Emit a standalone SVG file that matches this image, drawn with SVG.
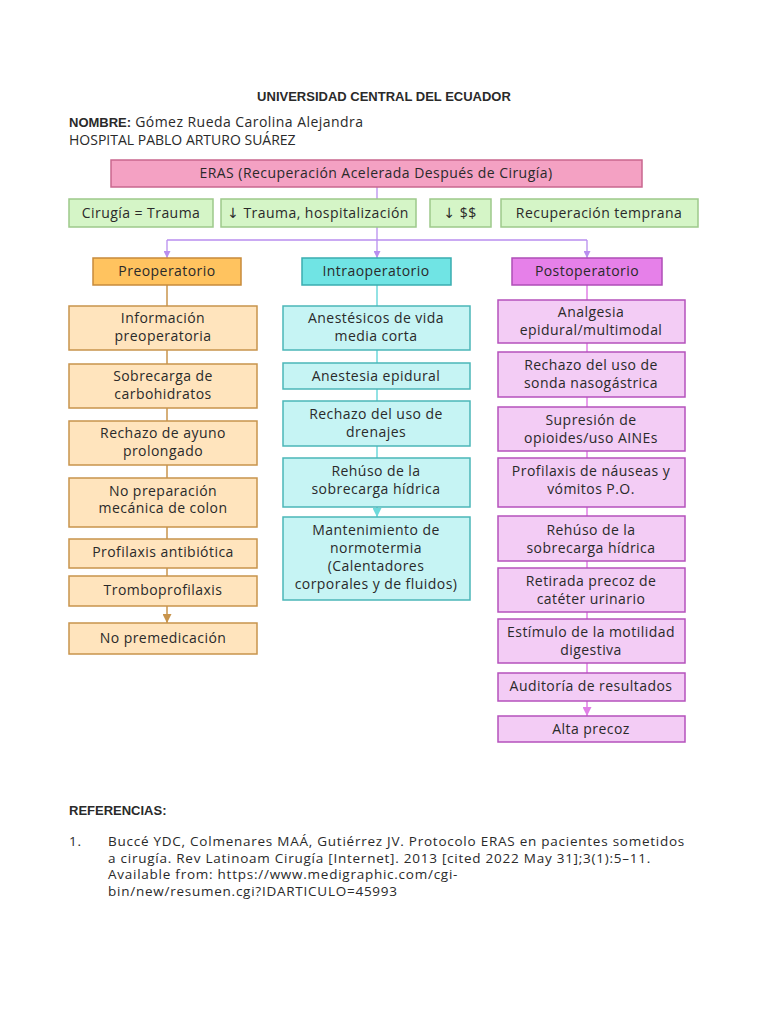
<svg xmlns="http://www.w3.org/2000/svg" width="768" height="1024" viewBox="0 0 768 1024">
<defs>
<style>
text{font-family:"Open Sans","DejaVu Sans",sans-serif;font-size:14px;letter-spacing:0.45px;fill:#2a2a2a}
.c{text-anchor:middle}
.b{font-family:"Liberation Sans",Arial,sans-serif;font-weight:bold;letter-spacing:0;font-size:13px}
.r{font-size:13.5px;letter-spacing:0.75px}
.eras{fill:#F4A1C3;stroke:#C9678F;stroke-width:1.5}
.grn{fill:#D5F5C7;stroke:#9DC98B;stroke-width:1.5}
.hpre{fill:#FFC35F;stroke:#C78B3B;stroke-width:1.5}
.hin{fill:#70E4E4;stroke:#3AADB0;stroke-width:1.5}
.hpo{fill:#E680E9;stroke:#AF4EB7;stroke-width:1.5}
.pre{fill:#FFE4BD;stroke:#C8944C;stroke-width:1.5}
.in{fill:#C6F4F4;stroke:#4BB6B8;stroke-width:1.5}
.po{fill:#F3CCF5;stroke:#B552BC;stroke-width:1.5}
.lv{stroke:#B98EEF;stroke-width:1.3;fill:none}
.lpre{stroke:#C8944C;stroke-width:1.5;fill:none}
.lin{stroke:#6ED9DB;stroke-width:1.5;fill:none}
.lpo{stroke:#E07FE6;stroke-width:1.5;fill:none}
</style>
<marker id="aLv" viewBox="0 0 10 10" refX="10" refY="5" markerWidth="7" markerHeight="7" orient="auto" markerUnits="userSpaceOnUse"><path d="M0,0 L10,5 L0,10 z" fill="#B98EEF"/></marker>
<marker id="aPre" viewBox="0 0 10 10" refX="10" refY="5" markerWidth="9" markerHeight="9" orient="auto" markerUnits="userSpaceOnUse"><path d="M0,0 L10,5 L0,10 z" fill="#C8944C"/></marker>
<marker id="aIn" viewBox="0 0 10 10" refX="10" refY="5" markerWidth="9" markerHeight="9" orient="auto" markerUnits="userSpaceOnUse"><path d="M0,0 L10,5 L0,10 z" fill="#6ED9DB"/></marker>
<marker id="aPo" viewBox="0 0 10 10" refX="10" refY="5" markerWidth="9" markerHeight="9" orient="auto" markerUnits="userSpaceOnUse"><path d="M0,0 L10,5 L0,10 z" fill="#E07FE6"/></marker>
</defs>
<rect width="768" height="1024" fill="#ffffff"/>

<g id="header">
<text class="c b" x="384" y="101">UNIVERSIDAD CENTRAL DEL ECUADOR</text>
<text x="69" y="127"><tspan class="b">NOMBRE:</tspan> Gómez Rueda Carolina Alejandra</text>
<text x="69" y="145" style="letter-spacing:0">HOSPITAL PABLO ARTURO SUÁREZ</text>
</g>

<g id="connectors">
<line class="lv" x1="377" y1="187" x2="377" y2="199"/>
<line class="lv" x1="377" y1="227" x2="377" y2="240"/>
<line class="lv" x1="167" y1="240" x2="587" y2="240"/>
<line class="lv" x1="167" y1="240" x2="167" y2="258" marker-end="url(#aLv)"/>
<line class="lv" x1="377" y1="240" x2="377" y2="258" marker-end="url(#aLv)"/>
<line class="lv" x1="587" y1="240" x2="587" y2="258" marker-end="url(#aLv)"/>
<line class="lpre" x1="167" y1="285" x2="167" y2="623" marker-end="url(#aPre)"/>
<line class="lin" x1="377" y1="285" x2="377" y2="517" marker-end="url(#aIn)"/>
<line class="lpo" x1="587" y1="285" x2="587" y2="716" marker-end="url(#aPo)"/>
</g>

<g id="eras"><rect class="eras" x="111" y="160" width="531" height="27"/><text class="c" x="376" y="178">ERAS (Recuperación Acelerada Después de Cirugía)</text></g>
<g id="g1"><rect class="grn" x="69" y="199" width="144" height="28"/><text class="c" x="141" y="218">Cirugía = Trauma</text></g>
<g id="g2"><rect class="grn" x="221" y="199" width="195" height="28"/><text class="c" x="318" y="218">↓ Trauma, hospitalización</text></g>
<g id="g3"><rect class="grn" x="430" y="199" width="61" height="28"/><text class="c" x="460" y="218">↓ $$</text></g>
<g id="g4"><rect class="grn" x="501" y="199" width="197" height="28"/><text class="c" x="599" y="218">Recuperación temprana</text></g>

<g id="preop"><rect class="hpre" x="93" y="258" width="148" height="27"/><text class="c" x="167" y="276">Preoperatorio</text></g>
<g id="intraop"><rect class="hin" x="302" y="258" width="149" height="27"/><text class="c" x="376" y="276">Intraoperatorio</text></g>
<g id="postop"><rect class="hpo" x="512" y="258" width="150" height="27"/><text class="c" x="587" y="276">Postoperatorio</text></g>

<g id="pre1"><rect class="pre" x="69" y="306" width="188" height="44"/><text class="c" x="163" y="323">Información</text><text class="c" x="163" y="341">preoperatoria</text></g>
<g id="pre2"><rect class="pre" x="69" y="364" width="188" height="44"/><text class="c" x="163" y="381">Sobrecarga de</text><text class="c" x="163" y="399">carbohidratos</text></g>
<g id="pre3"><rect class="pre" x="69" y="421" width="188" height="44"/><text class="c" x="163" y="438">Rechazo de ayuno</text><text class="c" x="163" y="456">prolongado</text></g>
<g id="pre4"><rect class="pre" x="69" y="478" width="188" height="49"/><text class="c" x="163" y="496">No preparación</text><text class="c" x="163" y="513">mecánica de colon</text></g>
<g id="pre5"><rect class="pre" x="69" y="539" width="188" height="29"/><text class="c" x="163" y="557">Profilaxis antibiótica</text></g>
<g id="pre6"><rect class="pre" x="69" y="576" width="188" height="30"/><text class="c" x="163" y="595">Tromboprofilaxis</text></g>
<g id="pre7"><rect class="pre" x="69" y="623" width="188" height="31"/><text class="c" x="163" y="643">No premedicación</text></g>

<g id="in1"><rect class="in" x="283" y="306" width="187" height="44"/><text class="c" x="376" y="323">Anestésicos de vida</text><text class="c" x="376" y="341">media corta</text></g>
<g id="in2"><rect class="in" x="283" y="363" width="187" height="26"/><text class="c" x="376" y="381">Anestesia epidural</text></g>
<g id="in3"><rect class="in" x="283" y="401" width="187" height="45"/><text class="c" x="376" y="419">Rechazo del uso de</text><text class="c" x="376" y="437">drenajes</text></g>
<g id="in4"><rect class="in" x="283" y="458" width="187" height="49"/><text class="c" x="376" y="476">Rehúso de la</text><text class="c" x="376" y="494">sobrecarga hídrica</text></g>
<g id="in5"><rect class="in" x="283" y="517" width="187" height="83"/><text class="c" x="376" y="535">Mantenimiento de</text><text class="c" x="376" y="553">normotermia</text><text class="c" x="376" y="571">(Calentadores</text><text class="c" x="376" y="589">corporales y de fluidos)</text></g>

<g id="po1"><rect class="po" x="498" y="300" width="187" height="43"/><text class="c" x="591" y="317">Analgesia</text><text class="c" x="591" y="335">epidural/multimodal</text></g>
<g id="po2"><rect class="po" x="498" y="352" width="187" height="45"/><text class="c" x="591" y="370">Rechazo del uso de</text><text class="c" x="591" y="388">sonda nasogástrica</text></g>
<g id="po3"><rect class="po" x="498" y="407" width="187" height="44"/><text class="c" x="591" y="425">Supresión de</text><text class="c" x="591" y="443">opioides/uso AINEs</text></g>
<g id="po4"><rect class="po" x="498" y="458" width="187" height="49"/><text class="c" x="591" y="476">Profilaxis de náuseas y</text><text class="c" x="591" y="494">vómitos P.O.</text></g>
<g id="po5"><rect class="po" x="498" y="516" width="187" height="45"/><text class="c" x="591" y="535">Rehúso de la</text><text class="c" x="591" y="553">sobrecarga hídrica</text></g>
<g id="po6"><rect class="po" x="498" y="568" width="187" height="44"/><text class="c" x="591" y="586">Retirada precoz de</text><text class="c" x="591" y="604">catéter urinario</text></g>
<g id="po7"><rect class="po" x="498" y="619" width="187" height="44"/><text class="c" x="591" y="637">Estímulo de la motilidad</text><text class="c" x="591" y="655">digestiva</text></g>
<g id="po8"><rect class="po" x="498" y="673" width="187" height="28"/><text class="c" x="591" y="691">Auditoría de resultados</text></g>
<g id="po9"><rect class="po" x="498" y="716" width="187" height="26"/><text class="c" x="591" y="734">Alta precoz</text></g>

<g id="references">
<text class="b" x="69" y="815">REFERENCIAS:</text>
<text class="r" x="69" y="846">1.</text>
<text class="r" x="108" y="846">Buccé YDC, Colmenares MAÁ, Gutiérrez JV. Protocolo ERAS en pacientes sometidos</text>
<text class="r" x="108" y="862.5">a cirugía. Rev Latinoam Cirugía [Internet]. 2013 [cited 2022 May 31];3(1):5–11.</text>
<text class="r" x="108" y="879">Available from: https://www.medigraphic.com/cgi-</text>
<text class="r" x="108" y="895.5">bin/new/resumen.cgi?IDARTICULO=45993</text>
</g>
</svg>
